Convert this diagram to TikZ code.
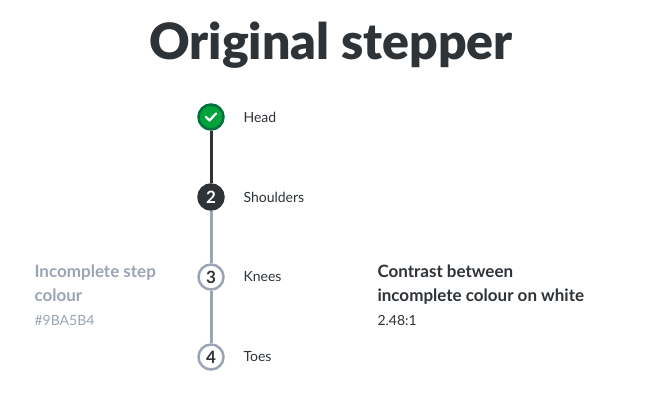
\documentclass[tikz,border=0pt]{standalone}
\usepackage{fontspec}
\setmainfont{Lato}
\newfontfamily\blackfont{Lato Black}
\definecolor{dark}{HTML}{2E3338}
\definecolor{inc}{HTML}{9BA5B4}
\definecolor{gfill}{HTML}{00A33B}
\definecolor{gborder}{HTML}{00703C}
\tikzset{x=1pt,y=-1pt,
 stepdot/.style={circle,minimum size=25pt,inner sep=0pt,line width=2.5pt,font=\fontsize{17}{17}\selectfont\bfseries},
 lbl/.style={anchor=west,text=dark,font=\fontsize{14}{14}\selectfont},
 info/.style={anchor=north west,align=left,font=\fontsize{17}{24}\selectfont}}
\begin{document}
\begin{tikzpicture}
\useasboundingbox[fill=white] (0,0) rectangle (662,400);
\node[text=dark,font=\fontsize{50}{50}\selectfont\blackfont] (title) at (331,45) {Original stepper};
\node[stepdot,fill=gfill,draw=gborder] (s1) at (211,117) {};
\draw[white,line width=2.2pt,line cap=round,line join=round] ([shift={(-5,0)}]s1.center) -- ([shift={(-1.5,3.5)}]s1.center) -- ([shift={(5,-3.5)}]s1.center);
\node[stepdot,fill=dark,draw=dark,text=white] (s2) at (211,197) {2};
\node[stepdot,fill=white,draw=inc,text=dark] (s3) at (211,277) {3};
\node[stepdot,fill=white,draw=inc,text=dark] (s4) at (211,357) {4};
\draw[dark,line width=3pt] (s1) -- (s2);
\draw[inc,line width=3pt] (s2) -- (s3);
\draw[inc,line width=3pt] (s3) -- (s4);
\node[lbl] (l1) at (240,117) {Head};
\node[lbl] (l2) at (240,197) {Shoulders};
\node[lbl] (l3) at (240,277) {Knees};
\node[lbl] (l4) at (240,357) {Toes};
\node[info,text=inc] (left) at (31,261) {\textbf{Incomplete step}\\\textbf{colour}\\{\fontsize{14}{14}\selectfont\#9BA5B4}};
\node[info,text=dark] (right) at (374,261) {\textbf{Contrast between}\\\textbf{incomplete colour on white}\\{\fontsize{14}{14}\selectfont 2.48:1}};
\end{tikzpicture}
\end{document}
